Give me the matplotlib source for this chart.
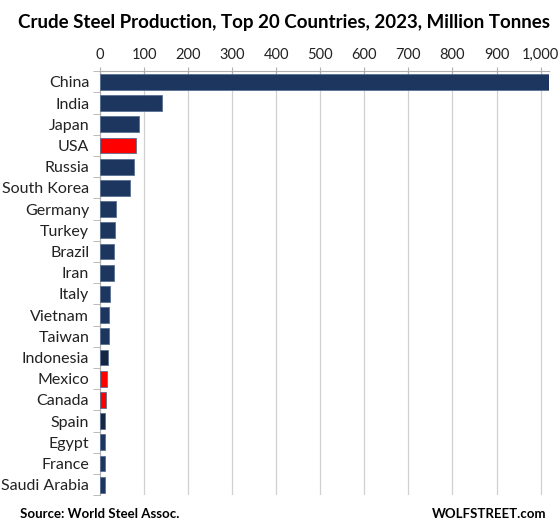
import numpy as np
import matplotlib.pyplot as plt
from matplotlib.ticker import FuncFormatter, MultipleLocator

plt.rcParams['font.family'] = ['Lato', 'DejaVu Sans']

countries = ['China', 'India', 'Japan', 'USA', 'Russia', 'South Korea', 'Germany',
             'Turkey', 'Brazil', 'Iran', 'Italy', 'Vietnam', 'Taiwan', 'Indonesia',
             'Mexico', 'Canada', 'Spain', 'Egypt', 'France', 'Saudi Arabia']
production = [1019.1, 140.8, 87.0, 81.4, 75.8, 66.7, 35.4, 33.7, 31.9, 31.1,
              21.1, 19.0, 19.2, 16.8, 16.2, 12.2, 11.4, 10.4, 10.0, 9.9]
highlight = ['USA', 'Mexico', 'Canada']
darker = ['Indonesia', 'Spain']

navy = '#1d3660'
colors = []
for c in countries:
    if c in highlight:
        colors.append('#ff0000')
    elif c in darker:
        colors.append('#142642')
    else:
        colors.append(navy)

fig = plt.figure(figsize=(5.6, 5.28), dpi=100)
ax = fig.add_axes([0.179, 0.062, 0.802, 0.803])

y = np.arange(len(countries))
ax.barh(y, production, height=0.74, color=colors, edgecolor='#5a7090',
        linewidth=0.6, zorder=3)

ax.set_ylim(len(countries) - 0.5, -0.5)
ax.set_xlim(0, 1020)
ax.xaxis.tick_top()
ax.xaxis.set_major_locator(MultipleLocator(100))
ax.xaxis.set_major_formatter(FuncFormatter(lambda v, p: f'{int(v):,}'))
ax.tick_params(axis='x', direction='inout', length=6, color='#b0b0b0',
               labelsize=10.5, pad=4, labelcolor='#222222')
ax.grid(axis='x', color='#d0d0d0', linewidth=0.9, zorder=0)

ax.set_yticks(y)
ax.set_yticklabels(countries, fontsize=11.5, color='#222222')
ax.set_yticks(np.arange(-0.5, len(countries), 1), minor=True)
ax.tick_params(axis='y', which='major', length=0, pad=8)
ax.tick_params(axis='y', which='minor', length=5, color='#b0b0b0', direction='out')

for s in ['right', 'bottom']:
    ax.spines[s].set_visible(False)
ax.spines['top'].set_color('#b0b0b0')
ax.spines['left'].set_color('#b0b0b0')

fig.text(0.032, 0.957, 'Crude Steel Production, Top 20 Countries, 2023, Million Tonnes',
         fontsize=13.5, fontweight='bold', va='center', ha='left')
fig.text(0.036, 0.027, 'Source: World Steel Assoc.', fontsize=9.5,
         fontweight='bold', va='center', ha='left')
fig.text(0.975, 0.027, 'WOLFSTREET.com', fontsize=9.5,
         fontweight='bold', va='center', ha='right')

fig.savefig('out.png', dpi=100, facecolor='white')
